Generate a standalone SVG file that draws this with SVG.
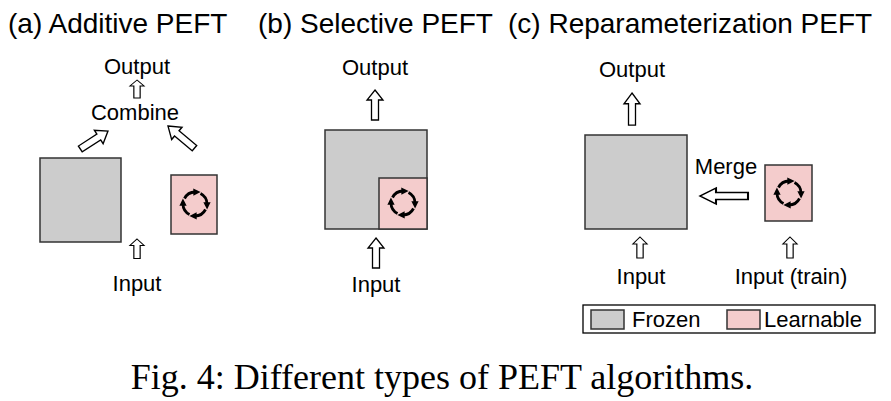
<svg xmlns="http://www.w3.org/2000/svg" width="891" height="401" viewBox="0 0 891 401">
<style>
text{font-family:"Liberation Sans",Arial,sans-serif;font-size:22px;fill:#000}
.t{font-size:28px}
.cap{font-family:"Liberation Serif","Times New Roman",serif;font-size:36px}
.fr{fill:#cccccc;stroke:#333;stroke-width:1.5}
.le{fill:#f4cccc;stroke:#333;stroke-width:1.5}
.ar{fill:#fff;stroke:#000;stroke-width:1.3}
.arc{fill:none;stroke:#000;stroke-width:2.8}
</style>
<defs>
<marker id="ah" markerWidth="2.6" markerHeight="2.6" refX="0.6" refY="1.3" orient="auto"><path d="M0,0L2.6,1.3L0,2.6z" fill="#000"/></marker>
<polygon id="up" points="0,0 8,10 3.5,10 3.5,30 -3.5,30 -3.5,10 -8,10" class="ar"/>
<g id="cyc">
<path class="arc" marker-end="url(#ah)" d="M-10.5,-5.5 A12,12 0 0 1 0,-12"/>
<path class="arc" marker-end="url(#ah)" d="M5.5,-10.5 A12,12 0 0 1 12,0"/>
<path class="arc" marker-end="url(#ah)" d="M10.5,5.5 A12,12 0 0 1 0,12"/>
<path class="arc" marker-end="url(#ah)" d="M-5.5,10.5 A12,12 0 0 1 -12,0"/>
</g>
</defs>
<text class="t" x="8" y="33">(a) Additive PEFT</text>
<text class="t" x="258" y="33">(b) Selective PEFT</text>
<text class="t" x="508" y="33">(c) Reparameterization PEFT</text>
<g id="a">
<rect class="fr" x="40" y="158" width="81" height="84"/>
<rect class="le" x="171" y="175" width="46" height="59"/>
<use href="#cyc" x="195" y="204"/>
<text x="137" y="74" text-anchor="middle">Output</text>
<text x="135" y="120" text-anchor="middle">Combine</text>
<text x="137" y="291" text-anchor="middle">Input</text>
</g>
<g id="b">
<rect class="fr" x="325" y="130" width="102" height="99"/>
<rect class="le" x="379" y="178" width="48" height="51"/>
<use href="#cyc" x="403" y="203"/>
<text x="375" y="75" text-anchor="middle">Output</text>
<text x="376" y="292" text-anchor="middle">Input</text>
</g>
<g id="c">
<rect class="fr" x="585" y="135" width="102" height="94"/>
<rect class="le" x="765" y="165" width="47" height="56"/>
<use href="#cyc" x="789" y="193"/>
<text x="632" y="77" text-anchor="middle">Output</text>
<text x="726" y="174" text-anchor="middle">Merge</text>
<text x="641" y="284" text-anchor="middle">Input</text>
<text x="791" y="284" text-anchor="middle">Input (train)</text>
</g>
<g id="legend">
<rect x="583" y="305" width="292" height="28" fill="#fff" stroke="#000" stroke-width="1.3"/>
<rect class="fr" x="591" y="310" width="33" height="19"/>
<text x="632" y="327">Frozen</text>
<rect class="le" x="727" y="310" width="33" height="19"/>
<text x="764" y="327">Learnable</text>
</g>
<g id="connectors">
<use href="#up" transform="translate(137,80) scale(0.9,0.6)"/>
<use href="#up" transform="translate(108,131) rotate(57) scale(1,1.1)"/>
<use href="#up" transform="translate(168,126) rotate(-50) scale(1,1.15)"/>
<use href="#up" transform="translate(137,239) scale(0.9,0.65)"/>
<use href="#up" transform="translate(375,90)"/>
<use href="#up" transform="translate(376,238)"/>
<use href="#up" transform="translate(632,93) scale(1,1.07)"/>
<use href="#up" transform="translate(700,196) rotate(-90) scale(1,1.6)"/>
<use href="#up" transform="translate(640,237) scale(0.9,0.7)"/>
<use href="#up" transform="translate(790,237) scale(0.9,0.7)"/>
</g>
<text class="cap" x="442" y="389" text-anchor="middle">Fig. 4: Different types of PEFT algorithms.</text>
</svg>
